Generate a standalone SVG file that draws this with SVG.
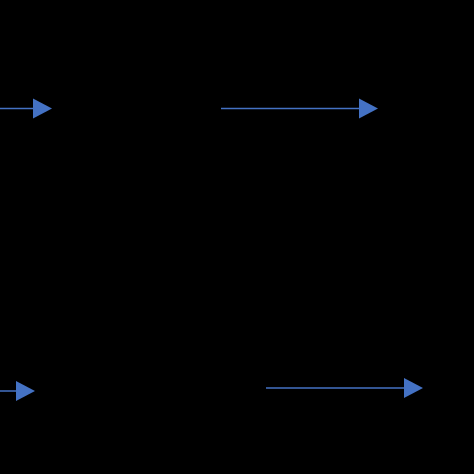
<svg xmlns="http://www.w3.org/2000/svg" width="474" height="474" viewBox="0 0 474 474">
<style>
.ln{stroke:#4472C4;stroke-width:1.5;fill:none}
.hd{fill:#4472C4}
</style>
<rect width="474" height="474" fill="#000"/>
<g id="connectors">
<line class="ln" x1="0" y1="108.5" x2="34" y2="108.5"/>
<polygon class="hd" points="33,98.5 52,108.5 33,118.5"/>
<line class="ln" x1="221" y1="108.5" x2="360" y2="108.5"/>
<polygon class="hd" points="359,98.5 378,108.5 359,118.5"/>
<line class="ln" x1="0" y1="391" x2="17" y2="391"/>
<polygon class="hd" points="16,381 35,391 16,401"/>
<line class="ln" x1="266" y1="388" x2="405" y2="388"/>
<polygon class="hd" points="404,378 423,388 404,398"/>
</g>
</svg>
